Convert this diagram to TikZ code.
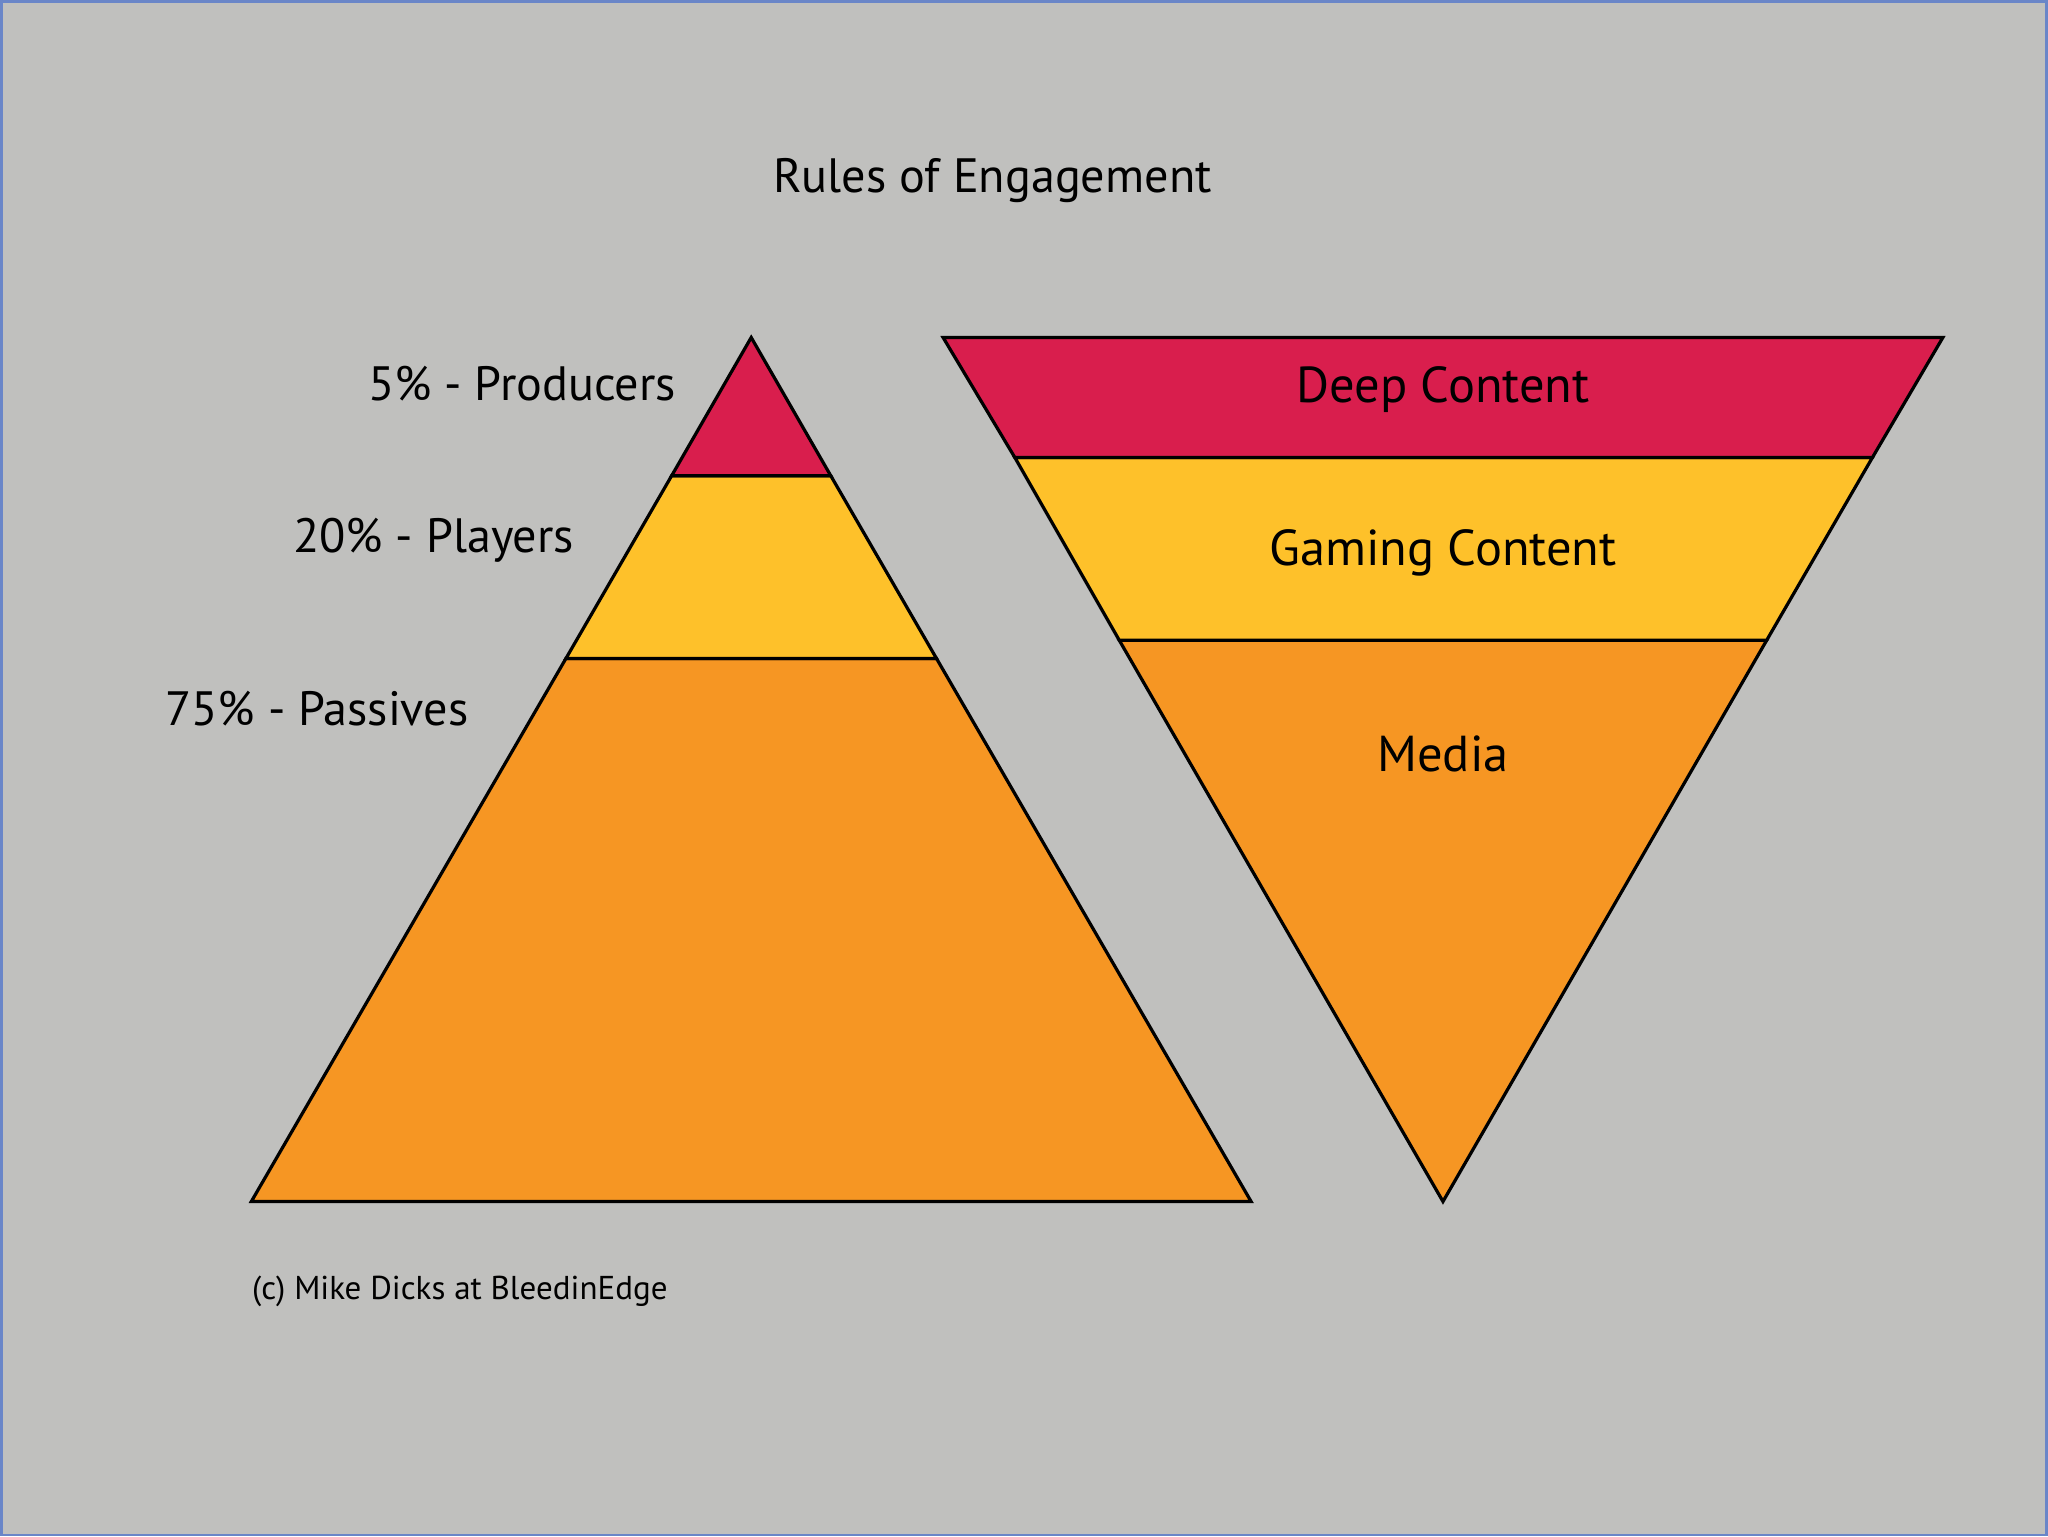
\documentclass[tikz,border=0pt]{standalone}
\usepackage{fontspec}
\setmainfont{PT Sans}
\definecolor{bg}{HTML}{C0C0BE}
\definecolor{cred}{HTML}{D91E4D}
\definecolor{cyel}{HTML}{FEC12A}
\definecolor{corg}{HTML}{F69623}
\definecolor{frame}{HTML}{6A86C8}
\begin{document}
\begin{tikzpicture}[x=0.01cm,y=-0.01cm,
  seg/.style={draw=black,line width=0.7pt,line join=miter},
  lab/.style={font=\fontsize{10.5}{12}\selectfont,inner sep=0pt},
  big/.style={font=\fontsize{11}{13}\selectfont,inner sep=0pt}]
\fill[bg] (0,0) rectangle (1568,1176);
\draw[frame,line width=0.6pt] (0.5,0.5) rectangle (1567.5,1175.5);
\useasboundingbox (0,0) rectangle (1568,1176);
% left pyramid
\draw[seg,fill=corg] (433,504) -- (717,504) -- (958,920) -- (192,920) -- cycle;
\draw[seg,fill=cyel] (514,364) -- (636,364) -- (717,504) -- (433,504) -- cycle;
\draw[seg,fill=cred] (575,258) -- (636,364) -- (514,364) -- cycle;
% right inverted
\draw[seg,fill=corg] (857,490) -- (1353,490) -- (1105,920) -- cycle;
\draw[seg,fill=cyel] (777,350) -- (1434,350) -- (1353,490) -- (857,490) -- cycle;
\draw[seg,fill=cred] (722,258) -- (1488,258) -- (1434,350) -- (777,350) -- cycle;
\node[lab] (title) at (760,138) {Rules of Engagement};
\node[lab,anchor=east] (p1) at (518,293) {5\% - Producers};
\node[lab,anchor=east] (p2) at (440,413) {20\% - Players};
\node[lab,anchor=east] (p3) at (359,542) {75\% - Passives};
\node[big] (r1) at (1105,298) {Deep Content};
\node[big] (r2) at (1105,423) {Gaming Content};
\node[big] (r3) at (1105,577) {Media};
\node[inner sep=0pt,anchor=west,font=\fontsize{7.2}{9}\selectfont] (c) at (192,989) {(c) Mike Dicks at BleedinEdge};
\end{tikzpicture}
\end{document}
